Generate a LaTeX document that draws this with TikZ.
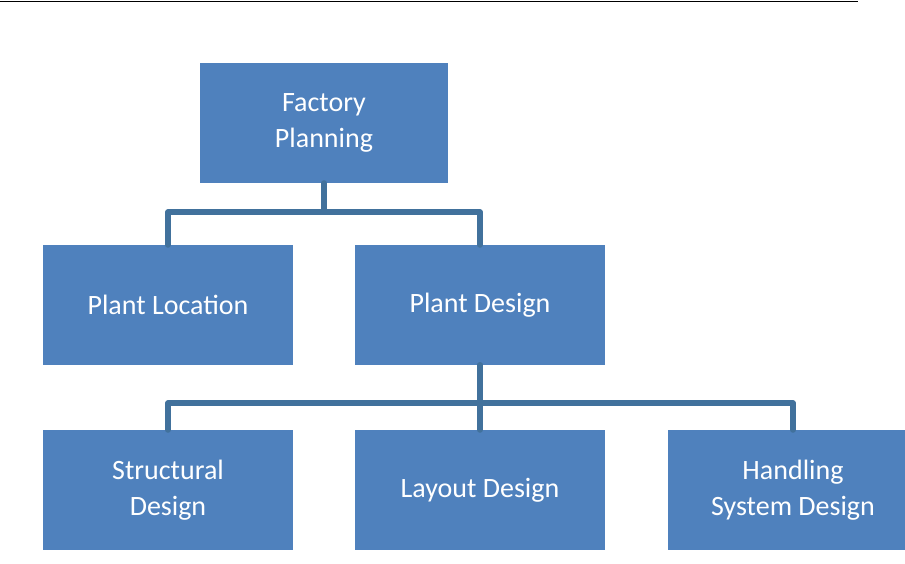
\documentclass[tikz,border=0pt]{standalone}
\usepackage{fontspec}
\setmainfont{Carlito}
\usetikzlibrary{positioning}
\definecolor{boxblue}{HTML}{4F81BD}
\definecolor{linkblue}{HTML}{41719C}
\tikzstyle{block} = [rectangle, fill=boxblue, text=white, minimum width=250pt, minimum height=120pt, inner sep=0pt, align=center, font=\fontsize{28}{36}\selectfont]
\tikzstyle{link} = [draw=linkblue, line width=6pt, line cap=round, line join=round]

\begin{document}
\begin{tikzpicture}[x=1pt,y=-1pt]
        \useasboundingbox (0,0) rectangle (905,563);
        \clip (0,0) rectangle (905,563);
        \draw[line width=1pt] (0,1) -- (858,1);

          \node [block, minimum width=248pt] (F) at (324,123) {Factory\\Planning};
          \node [block] (PL) at (168,305) {Plant Location};
          \node [block] (PD) at (480,305) {Plant Design};
          \node [block] (SD) at (168,490) {Structural\\Design};
          \node [block] (LD) at (480,490) {Layout Design};
          \node [block] (HS) at (793,490) {Handling\\System Design};

          \draw [link] (F.south) -- ++(0,29) -| (PL.north);
          \draw [link] (F.south) ++(0,29) -| (PD.north);
          \draw [link] (PD.south) -- ++(0,38) -| (SD.north);
          \draw [link] (PD.south) ++(0,38) -| (HS.north);
          \draw [link] (PD.south) -- (LD.north);
        \end{tikzpicture}
\end{document}
